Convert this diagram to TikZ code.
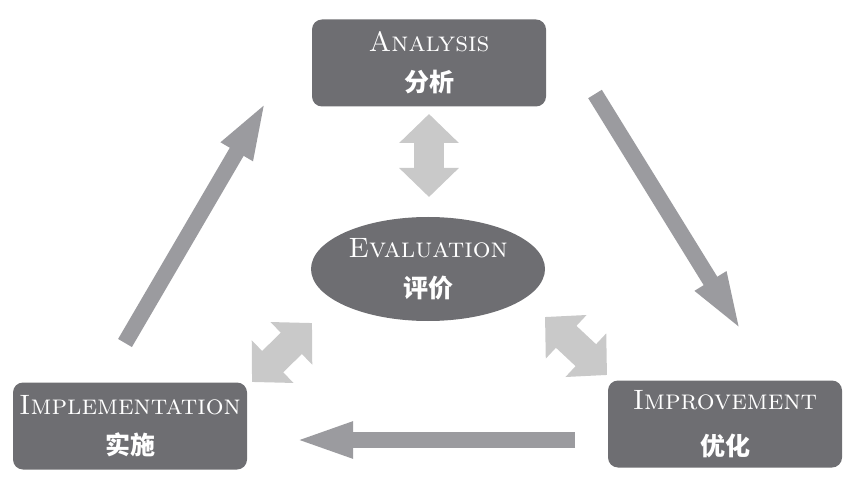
\documentclass[tikz,border=0pt]{standalone}
\usepackage{fontspec}
\newfontfamily\cjk{Noto Sans CJK SC}
\usetikzlibrary{arrows.meta,shapes.geometric}
\definecolor{boxgray}{RGB}{110,110,114}
\definecolor{flowgray}{RGB}{155,155,159}
\definecolor{linkgray}{RGB}{201,201,201}
\tikzset{
  stagebox/.style={fill=boxgray, rounded corners=5pt, minimum width=117pt, minimum height=43.5pt,
    inner sep=0pt, align=center, text=white, font=\fontsize{14}{19}\selectfont},
  evalshape/.style={ellipse, fill=boxgray, minimum width=117pt, minimum height=52pt,
    inner sep=0pt, align=center, text=white, font=\fontsize{14}{19}\selectfont},
  flowarrow/.style={draw=flowgray, line width=8pt, -{Triangle[length=30pt,width=16pt]}},
  linkarrow/.style={draw=linkgray, line width=15pt,
    {Triangle[length=14.5pt,width=29pt]}-{Triangle[length=14.5pt,width=29pt]}}
}
\newcommand{\zhtext}[1]{{\cjk\bfseries\fontsize{12.5}{15}\selectfont #1}}
\begin{document}
\begin{tikzpicture}[x=0.5pt,y=-0.5pt]
\useasboundingbox (0,0) rectangle (860,496);
\node[stagebox] (ana) at (429,63) {\textsc{Analysis}\\[1pt]\zhtext{分析}};
\node[stagebox] (impl) at (130,426) {\textsc{Implementation}\\[1pt]\zhtext{实施}};
\node[stagebox] (impr) at (725,424) {\textsc{Improvement}\\[4pt]\zhtext{优化}};
\node[evalshape] (eval) at (428,269) {\textsc{Evaluation}\\[1pt]\zhtext{评价}};
\coordinate (implout) at (125,343);
\coordinate (anain) at (267,100);
\coordinate (anaout) at (595,94);
\coordinate (imprin) at (742,332);
\coordinate (improut) at (575,440);
\coordinate (implin) at (293,440);
\coordinate (anaev) at (429,114);
\coordinate (evana) at (429,197);
\coordinate (evimpl) at (312,323);
\coordinate (implev) at (252,382);
\coordinate (evimpr) at (545,317);
\coordinate (imprev) at (607,375);
\draw[flowarrow] (implout) -- (anain);
\draw[flowarrow] (anaout) -- (imprin);
\draw[flowarrow] (improut) -- (implin);
\draw[linkarrow] (anaev) -- (evana);
\draw[linkarrow] (evimpl) -- (implev);
\draw[linkarrow] (evimpr) -- (imprev);
\end{tikzpicture}
\end{document}
